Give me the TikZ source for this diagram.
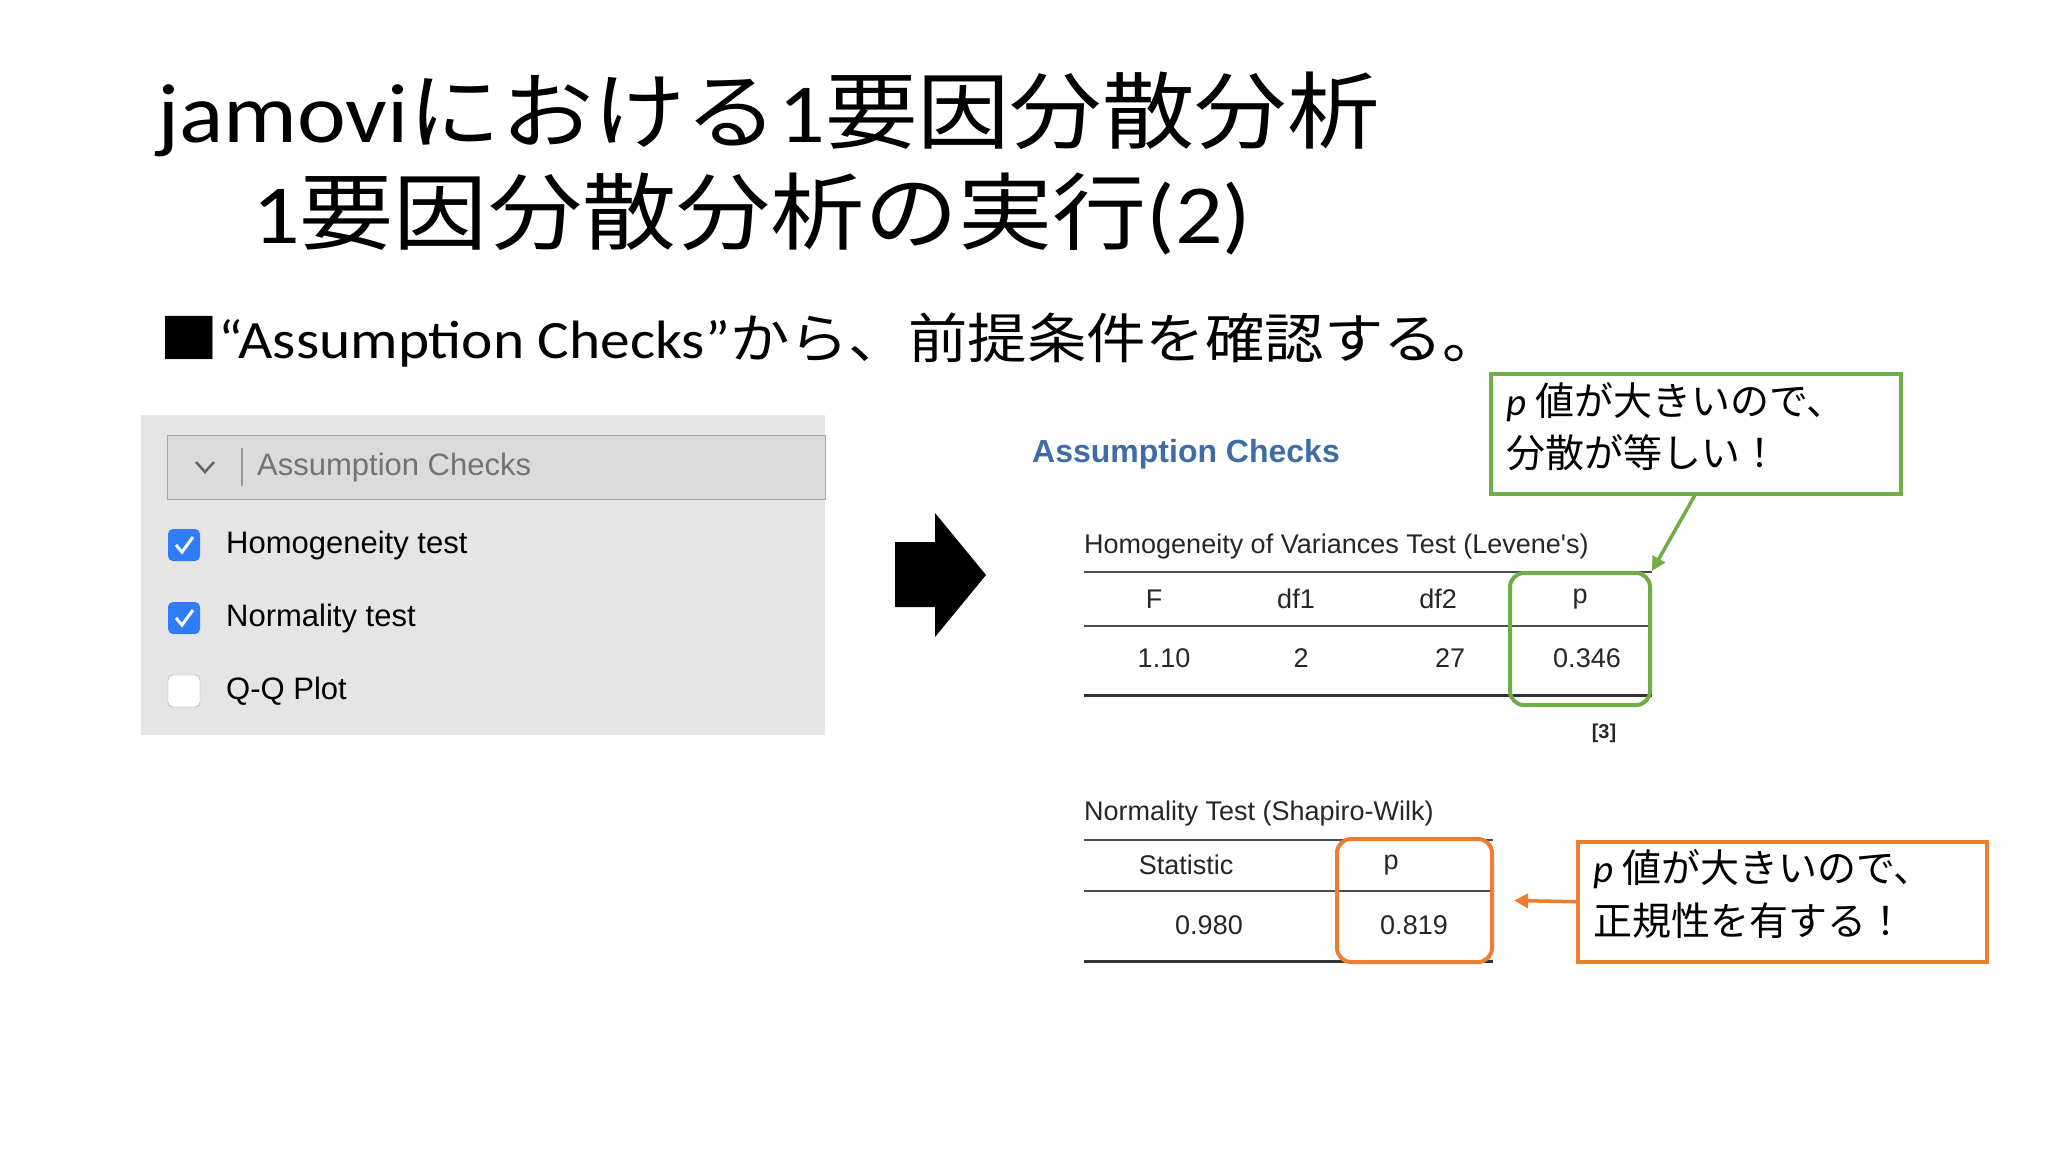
\documentclass[tikz,border=0pt]{standalone}
\usepackage{fontspec}
\setmainfont{Noto Sans CJK JP}
\newfontfamily\lat{Carlito}
\newfontfamily\ui{Liberation Sans}
\usetikzlibrary{arrows.meta}
\definecolor{gr}{HTML}{70AD47}
\definecolor{orn}{HTML}{ED7D31}
\definecolor{bl}{HTML}{3E6DA3}
\definecolor{chk}{HTML}{2F7CF6}
\begin{document}
\begin{tikzpicture}[x=1pt,y=-1pt,
  tt/.style={anchor=west,inner sep=0pt,font=\ui\fontsize{27}{30}\selectfont,text=black!85},
  tc/.style={anchor=center,inner sep=0pt,font=\ui\fontsize{27}{30}\selectfont,text=black!85},
  lbl/.style={anchor=west,inner sep=0pt,font=\ui\fontsize{31}{34}\selectfont},
  cb/.style={minimum size=32pt,inner sep=0pt,rounded corners=5pt},
  call/.style={draw,line width=3.5pt,anchor=north west,inner sep=0pt},
  ctext/.style={anchor=west,inner sep=0pt,font=\fontsize{39}{42}\selectfont}]
\useasboundingbox (0,0) rectangle (2048,1152);
\fill[white] (0,0) rectangle (2048,1152);
% titles
\node (t1) [anchor=base west,inner sep=0pt,font=\fontsize{84}{90}\selectfont,xscale=1.1,transform shape] at (157,142) {{\lat jamovi}における{\lat 1}要因分散分析};
\node (t2) [anchor=base west,inner sep=0pt,font=\fontsize{84}{90}\selectfont,xscale=1.12,transform shape] at (252,243) {{\lat 1}要因分散分析の実行{\lat (2)}};
\node (b) [anchor=base west,inner sep=0pt,font=\fontsize{54}{60}\selectfont,xscale=1.1,transform shape] at (159,358) {■{\lat “Assumption Checks”}から、前提条件を確認する。};
% left panel
\fill[black!10] (141,415) rectangle (825,735);
\draw[black!35,fill=black!14] (167,435) rectangle (825,499);
\draw[black!60,line width=2.5pt] (196,462) -- (205,472) -- (214,462);
\draw[black!40,line width=1.5pt] (242,448) -- (242,486);
\node (ah) [lbl,text=black!55] at (257,467) {Assumption Checks};
\node (c1) [cb,fill=chk] at (184,545) {};
\node (c2) [cb,fill=chk] at (184,618) {};
\node (c3) [cb,fill=white,draw=black!35] at (184,691) {};
\foreach \c in {c1,c2}
  \draw[white,line width=3pt] ([shift={(-8,0)}]\c.center) -- ([shift={(-2,7)}]\c.center) -- ([shift={(9,-8)}]\c.center);
\node (l1) [lbl] at (226,545) {Homogeneity test};
\node (l2) [lbl] at (226,618) {Normality test};
\node (l3) [lbl] at (226,691) {Q-Q Plot};
% block arrow
\fill[black] (895,542) -- (935,542) -- (935,513) -- (986,575) -- (935,637) -- (935,607) -- (895,607) -- cycle;
% right
\node (ac) [anchor=west,inner sep=0pt,font=\ui\bfseries\fontsize{32}{34}\selectfont,text=bl] at (1032,454) {Assumption Checks};
\node (h1) [tt] at (1084,547) {Homogeneity of Variances Test (Levene's)};
\draw[black!70,line width=1.5pt] (1084,572) -- (1652,572);
\node [tc] at (1154,599) {F};
\node [tc] at (1296,599) {df1};
\node [tc] at (1438,599) {df2};
\node [tc] at (1580,599) {p};
\draw[black!70,line width=1.5pt] (1084,626) -- (1652,626);
\node [tc] at (1164,658) {1.10};
\node [tc] at (1301,658) {2};
\node [tc] at (1450,658) {27};
\node [tc] at (1587,658) {0.346};
\draw[black!80,line width=3pt] (1084,695) -- (1652,695);
\node [tc,font=\ui\bfseries\fontsize{20}{22}\selectfont] at (1604,733) {[3]};
\node (g1) [draw=gr,line width=4pt,rounded corners=14pt,minimum width=140pt,minimum height=132pt,anchor=north west] at (1508,571) {};
\node (gc) [call,draw=gr,minimum width=410pt,minimum height=120pt] at (1489,372) {};
\node [ctext] at (1506,402) {{\lat\itshape p} 値が大きいので、};
\node [ctext] at (1506,453) {分散が等しい！};
\draw[gr,line width=3.5pt,-{Triangle[length=14pt,width=14pt]}] (gc.south) ++(-1,0) -- (g1.north east);
\node (h2) [tt] at (1084,814) {Normality Test (Shapiro-Wilk)};
\draw[black!70,line width=1.5pt] (1084,840) -- (1493,840);
\node [tc] at (1186,865) {Statistic};
\node [tc] at (1391,865) {p};
\draw[black!70,line width=1.5pt] (1084,891) -- (1493,891);
\node [tc] at (1209,925) {0.980};
\node [tc] at (1414,925) {0.819};
\draw[black!80,line width=3pt] (1084,961) -- (1493,961);
\node (o1) [draw=orn,line width=4pt,rounded corners=14pt,minimum width=155pt,minimum height=123pt,anchor=north west] at (1335,837) {};
\node (oc) [call,draw=orn,minimum width=409pt,minimum height=120pt] at (1576,840) {};
\node [ctext] at (1593,869) {{\lat\itshape p} 値が大きいので、};
\node [ctext] at (1593,921) {正規性を有する！};
\draw[orn,line width=3.5pt,-{Triangle[length=14pt,width=14pt]}] (oc.west) -- ([xshift=20pt]o1.east);
\end{tikzpicture}
\end{document}
